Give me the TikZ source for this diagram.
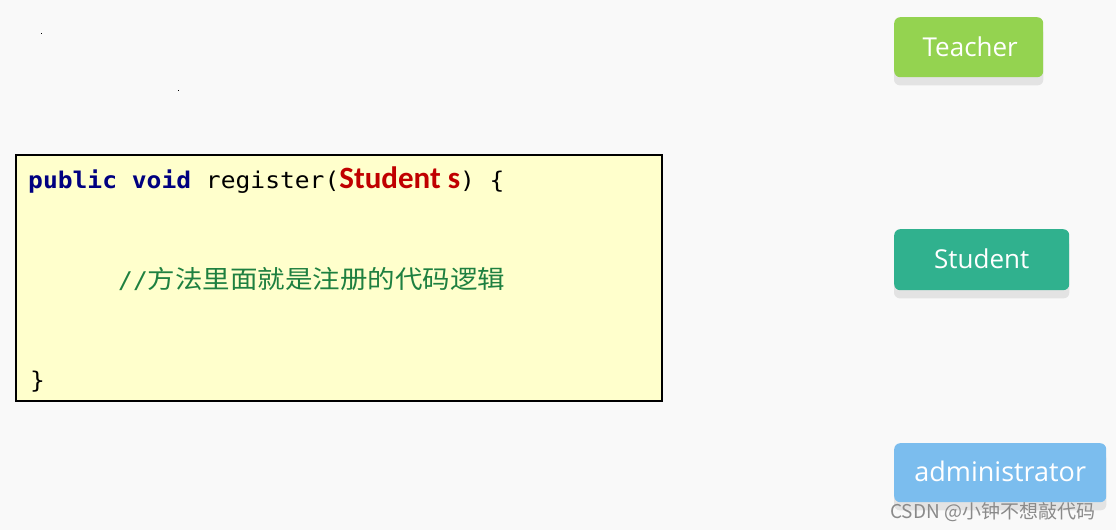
\documentclass[tikz,border=0pt]{standalone}
\usepackage{fontspec}
\setmainfont{Open Sans}
\newfontfamily\codefont[FakeStretch=1.07]{DejaVu Sans Mono}
\newfontfamily\boldsans{Carlito}
\newfontfamily\cjk[FakeStretch=1.1]{Noto Sans CJK SC}
\newfontfamily\wmfont{Noto Sans CJK SC}
\usetikzlibrary{backgrounds}
\definecolor{bgc}{HTML}{F9F9F9}
\definecolor{codebg}{HTML}{FFFFCC}
\definecolor{kwblue}{HTML}{000080}
\definecolor{typered}{HTML}{C00000}
\definecolor{cmtgreen}{HTML}{1E8040}
\definecolor{teachergreen}{HTML}{94D350}
\definecolor{studentgreen}{HTML}{30B18E}
\definecolor{adminblue}{HTML}{7BBDEE}
\definecolor{shadowc}{HTML}{E3E3E3}
\definecolor{wmgray}{HTML}{8A8A8A}
\tikzset{
  btn/.style={rounded corners=6pt, anchor=north west, inner sep=0pt, text=white,
    font=\fontsize{26}{30}\selectfont},
  codeline/.style={anchor=base west, inner sep=0pt, font=\codefont\fontsize{23}{27}\selectfont},
  codebox/.style={draw=black, line width=1.5pt, fill=codebg, anchor=north west, inner sep=0pt}
}
\begin{document}
\begin{tikzpicture}[x=1pt,y=-1pt]
\useasboundingbox (0,0) rectangle (1116,530);
\begin{scope}[on background layer]
\fill[bgc] (0,0) rectangle (1116,530);
\end{scope}
% tiny dots
\fill[black] (40.5,32.5) rectangle (41.5,33.5);
\fill[black] (177.5,89.5) rectangle (178.5,90.5);
% code box
\node[codebox, minimum width=646pt, minimum height=246pt] (box) at (15,154) {};
\node[codeline] (l1) at (28,188) {{\bfseries\color{kwblue}public void} register({\boldsans\bfseries\fontsize{31}{36}\selectfont\color{typered}Student s}) \{};
\node[codeline, text=cmtgreen] (l2) at (118,288) {//{\cjk\fontsize{25}{30}\selectfont 方法里面就是注册的代码逻辑}};
\node[codeline] (l3) at (30,388) {\}};
% buttons
\node[btn, fill=teachergreen, minimum width=149pt, minimum height=60pt] (teacher) at (894,17) {\raisebox{2pt}{\hspace{3pt}Teacher}};
\node[btn, fill=studentgreen, minimum width=175pt, minimum height=61pt] (student) at (894,229) {\raisebox{2pt}{Student}};
\node[btn, fill=adminblue, minimum width=212pt, minimum height=59pt, font=\fontsize{27}{31}\selectfont] (admin) at (894,443) {\raisebox{2pt}{administrator}};
\begin{scope}[on background layer]
\fill[shadowc, rounded corners=6pt] ([yshift=-8pt]teacher.south west) rectangle ([yshift=-10pt]teacher.north east);
\fill[shadowc, rounded corners=6pt] ([yshift=-8pt]student.south west) rectangle ([yshift=-10pt]student.north east);
\fill[shadowc, rounded corners=6pt] ([yshift=-8pt]admin.south west) rectangle ([yshift=-10pt]admin.north east);
\end{scope}
% watermark
\node[anchor=base west, inner sep=0pt, text=wmgray, font=\wmfont\fontsize{19}{22}\selectfont] (wm) at (890,518) {CSDN @小钟不想敲代码};
\end{tikzpicture}
\end{document}
